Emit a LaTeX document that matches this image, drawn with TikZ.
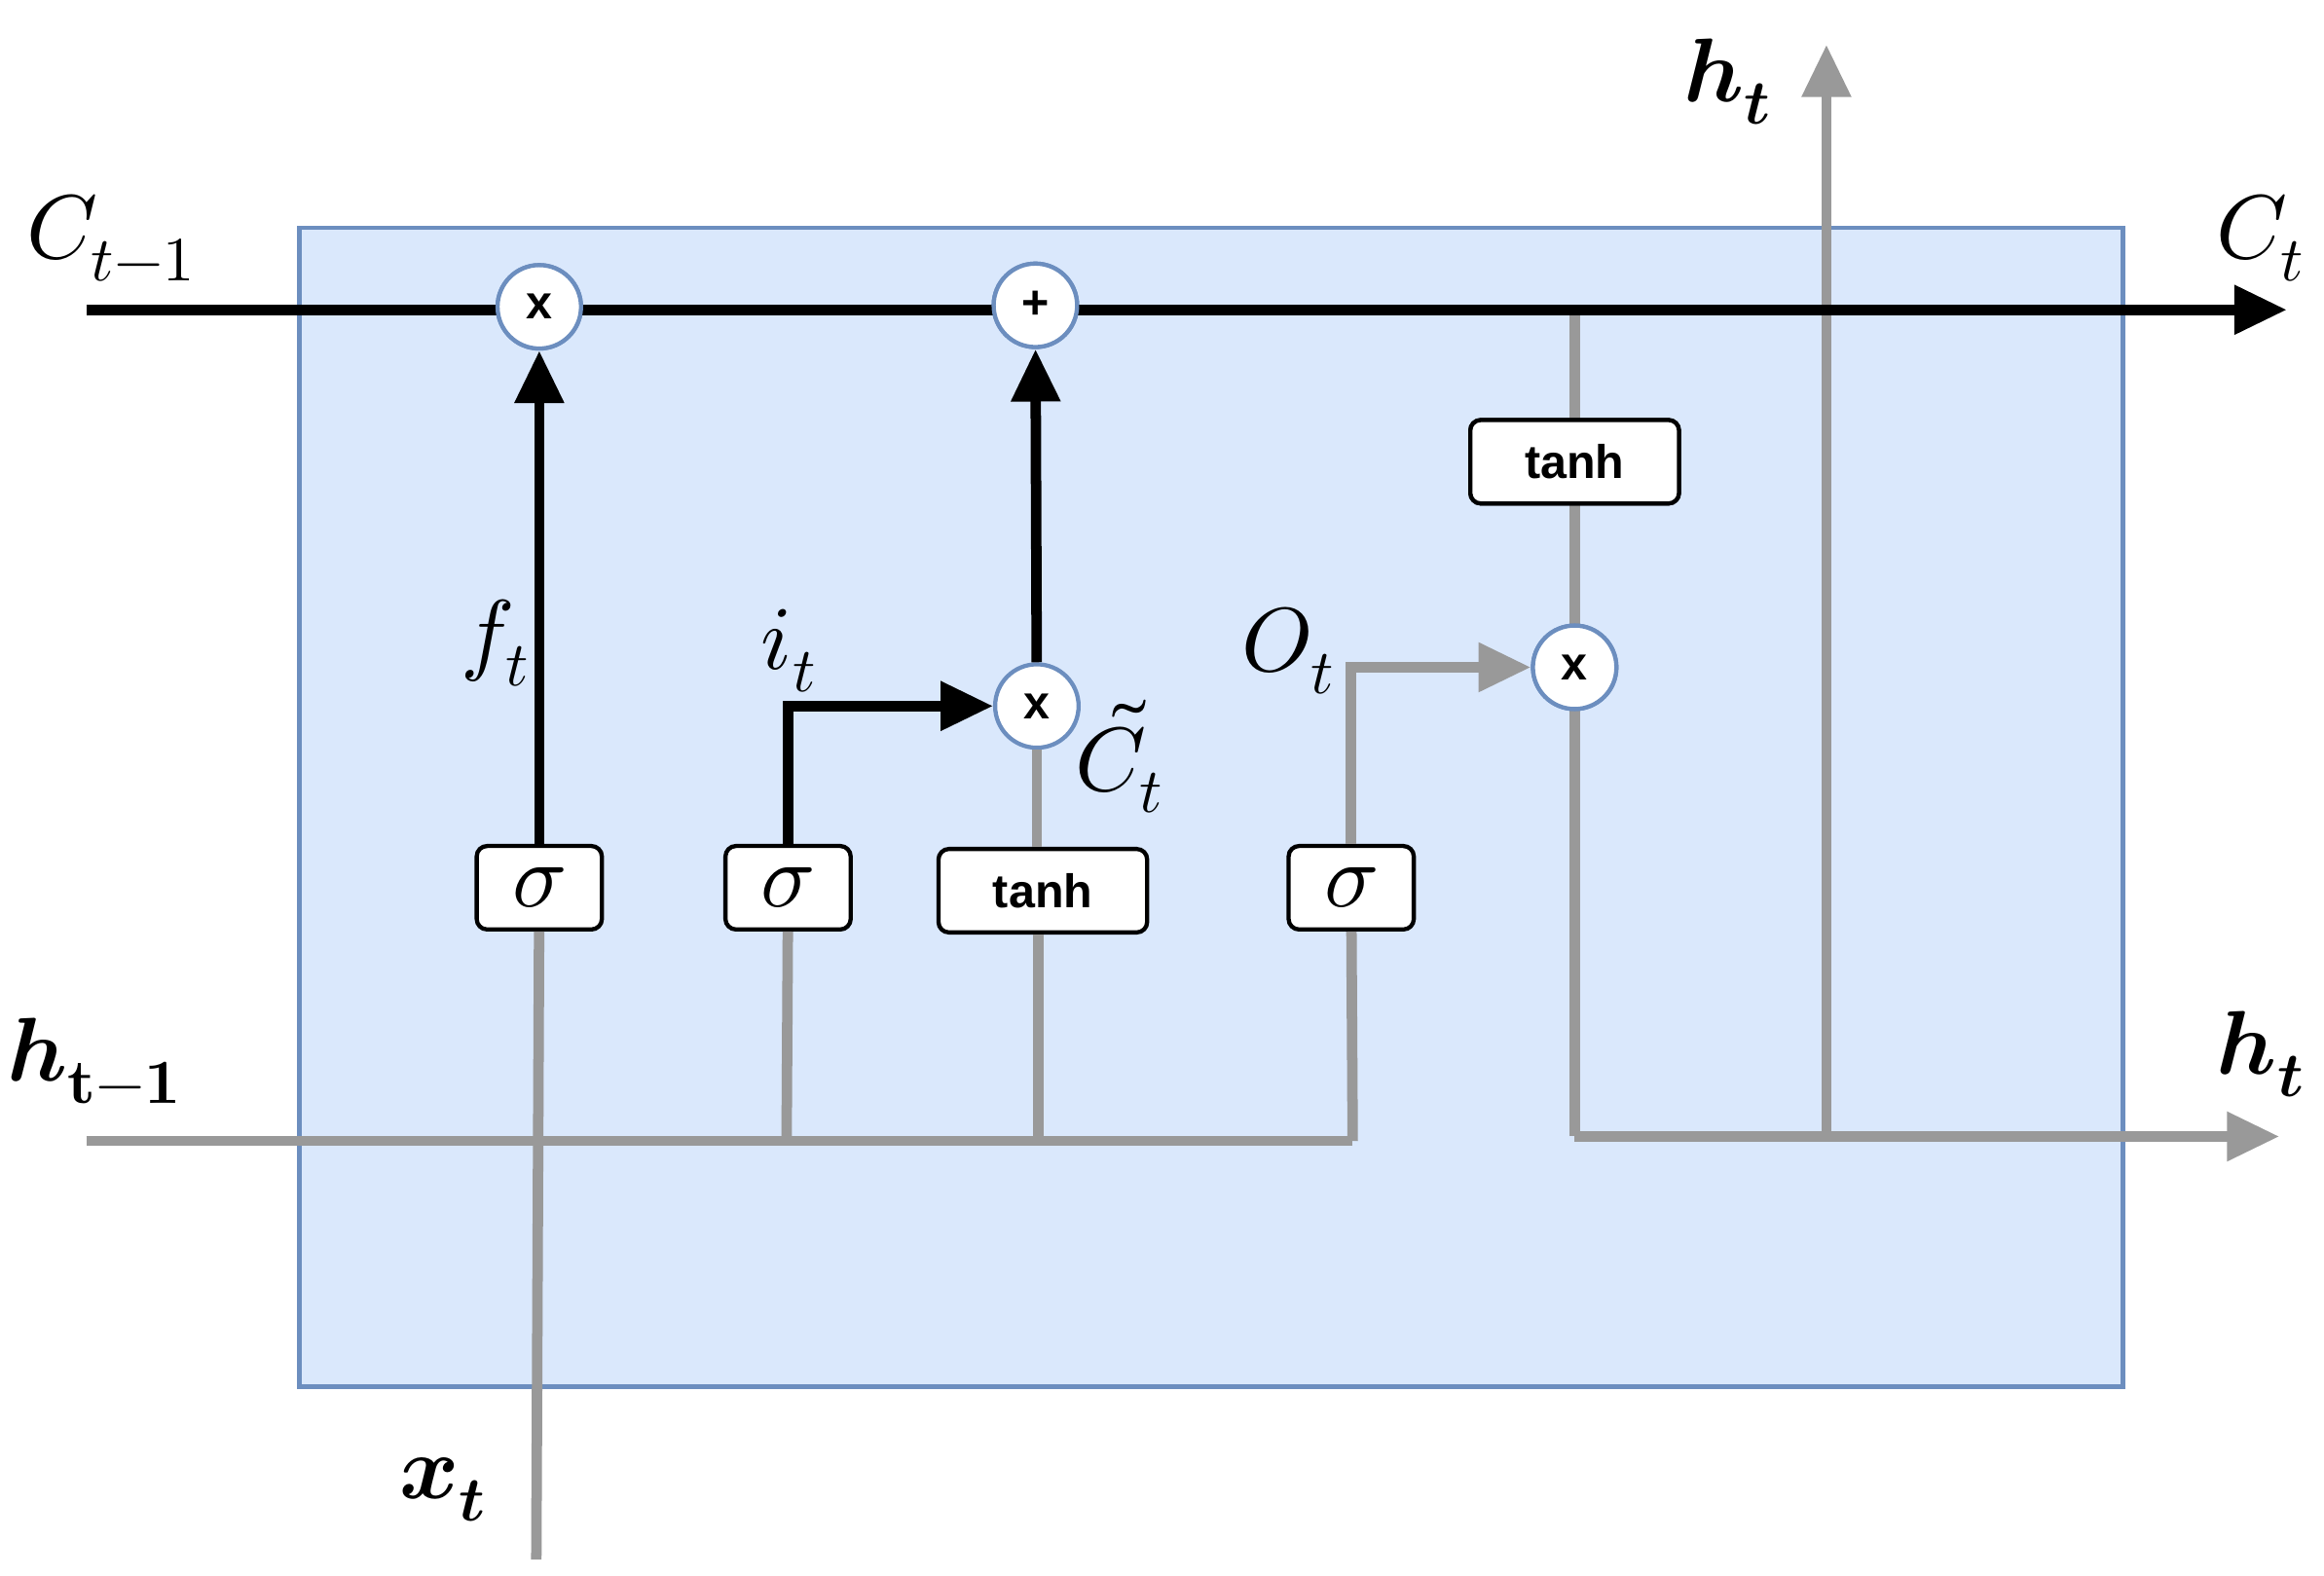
\documentclass[tikz,border=0pt]{standalone}
\usepackage{fontspec}
\setmainfont{Liberation Sans}
\usepackage{unicode-math}
\setmathfont{Latin Modern Math}
\usetikzlibrary{arrows.meta}
\definecolor{cellfill}{HTML}{DAE8FC}
\definecolor{celldraw}{HTML}{6C8EBF}
\definecolor{wire}{HTML}{999999}
\begin{document}
\begin{tikzpicture}[x=0.01cm, y=-0.01cm,
    % Стиль для операций: круг
    op/.style={circle, draw=celldraw, thick, fill=white, minimum size=0.56cm, inner sep=0pt, font=\bfseries\small},
    % Стиль для слоёв: скруглённый прямоугольник
    layer/.style={rectangle, rounded corners=2pt, draw, thick, fill=white, minimum height=0.56cm, inner sep=0pt},
    % Стиль для связей
    main/.style={line width=2pt, black},
    side/.style={line width=2pt, wire},
    tip/.style={-{Triangle[length=10pt, width=9pt]}},
    lbl/.style={font=\LARGE}
]
    \useasboundingbox (0,0) rectangle (1560,1058);

    % --- Ячейка ---
    \draw[celldraw, thick, fill=cellfill] (201,153) rectangle (1425,931);

    % --- Точки входа и выхода ---
    \coordinate (cin) at (58,208);
    \coordinate (cout) at (1535,208);
    \coordinate (hin) at (58,766);
    \coordinate (hout) at (1530,763);
    \coordinate (htop) at (1226,30);
    \coordinate (xin) at (360,1047);
    \coordinate (hturn) at (908,766);
    \coordinate (hsplit) at (1226,763);
    \coordinate (hcorner) at (1057,763);
    \coordinate (ctap) at (1057,208);
    \coordinate (hj1) at (528,766);
    \coordinate (hj2) at (697,766);

    % --- Горизонтальные линии ---
    \draw[side] (hin) -- (hturn);
    \draw[side, tip] (hcorner) -- (hout);
    \draw[side, tip] (hsplit) -- (htop);
    \draw[side] (ctap) -- (1057,448);
    \draw[side] (1057,448) -- (hcorner);

    % --- Слои ---
    \node[layer, minimum width=0.84cm, font=\LARGE] (sf) at (362,596) {$\sigma$};
    \node[layer, minimum width=0.84cm, font=\LARGE] (si) at (529,596) {$\sigma$};
    \node[layer, minimum width=1.4cm, font=\bfseries\small] (tc) at (700,598) {tanh};
    \node[layer, minimum width=0.84cm, font=\LARGE] (so) at (907,596) {$\sigma$};
    \node[layer, minimum width=1.4cm, font=\bfseries\small] (th) at (1057,310) {tanh};

    % --- Операции ---
    \node[op] (mf) at (362,206) {x};
    \node[op] (add) at (695,205) {+};
    \node[op] (mi) at (696,474) {x};
    \node[op] (mo) at (1057,448) {x};

    % --- Серые связи ---
    \draw[side] (xin) -- (sf);
    \draw[side] (hj1) -- (si);
    \draw[side] (hj2) -- (tc.south -| hj2);
    \draw[side] (hturn) -- (so);
    \draw[side] (tc.north -| mi) -- (mi);
    \draw[side, tip] (so) |- (mo);
    \node[op] at (1057,448) {x};
    \node[layer, minimum width=1.4cm, font=\bfseries\small] at (1057,310) {tanh};

    % --- Чёрные связи ---
    \draw[main, tip] (cin) -- (cout);
    \draw[main, tip] (sf) -- (mf);
    \draw[main, tip] (si.north) |- (mi);
    \draw[main, tip] (mi) -- (add);
    \node[op] at (362,206) {x};
    \node[op] at (695,205) {+};

    % --- Подписи ---
    \node[lbl] (lc0) at (75,160) {$C_{t-1}$};
    \node[lbl] (lc1) at (1518,160) {$C_t$};
    \node[lbl] (lh0) at (64,712) {$\symbfit{h}_{\symbf{t-1}}$};
    \node[lbl] (lh1) at (1518,708) {$\symbfit{h_t}$};
    \node[lbl] (lh2) at (1160,55) {$\symbfit{h_t}$};
    \node[lbl] (lx) at (298,1000) {$\symbfit{x_t}$};
    \node[lbl] (lf) at (333,432) {$f_t$};
    \node[lbl] (li) at (530,437) {$i_t$};
    \node[lbl] (lo) at (865,437) {$O_t$};
    \node[lbl] (lct) at (752,508) {$\tilde{C}_t$};
\end{tikzpicture}
\end{document}
